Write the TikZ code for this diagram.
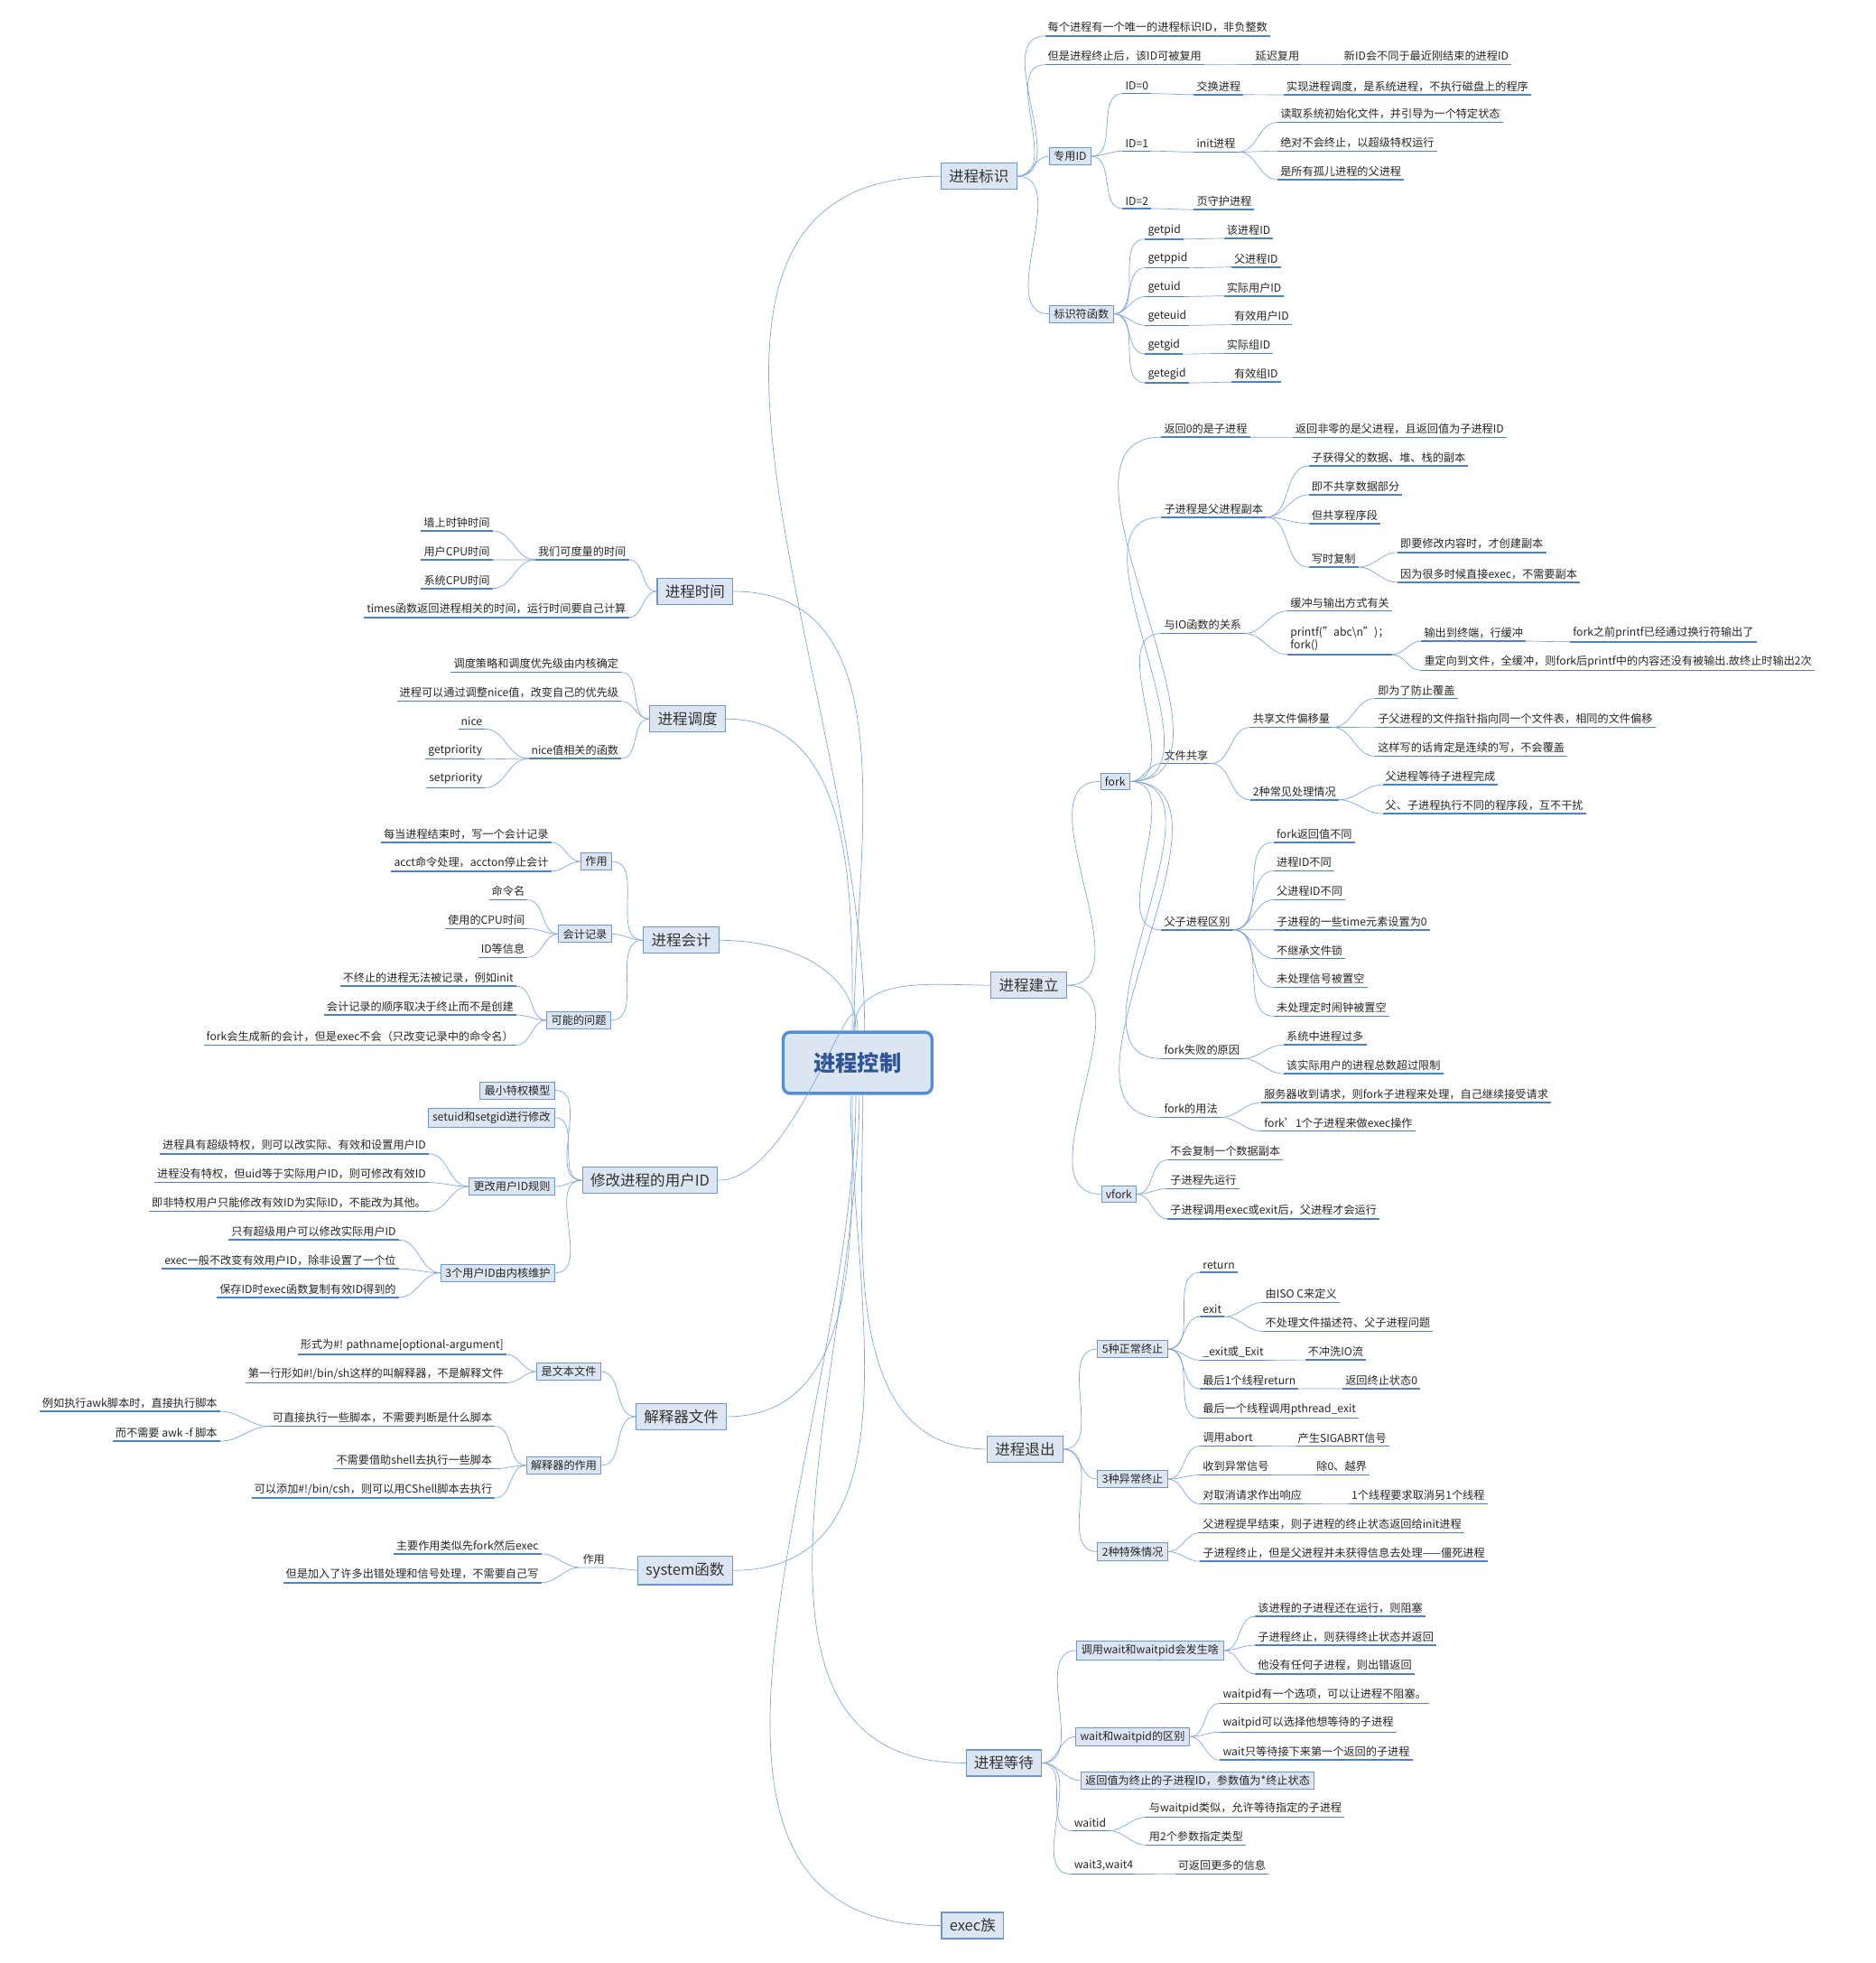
\documentclass[tikz,border=0pt]{standalone}
\usepackage{fontspec}
\setmainfont{Noto Sans CJK SC}
\begin{document}
\begin{tikzpicture}[x=0.05cm,y=-0.05cm,
 font=\fontsize{12.5}{15}\selectfont,
 uline/.style={draw=ulc,line width=1.6pt},
 leaf/.style={inner xsep=3pt,inner ysep=3.5pt,text=black!85,
   append after command={(\tikzlastnode.south west) edge[uline] (\tikzlastnode.south east)}},
 sbox/.style={draw=boxc,fill=boxf,line width=0.9pt,inner xsep=5pt,inner ysep=4pt,text=black!85},
 mainbox/.style={draw=boxc,fill=boxf,line width=1.2pt,inner xsep=9pt,inner ysep=7pt,font=\fontsize{17}{20}\selectfont,text=black!80},
 rootbox/.style={draw=rootc,fill=boxf,line width=3.5pt,rounded corners=8pt,minimum width=119*0.05cm,minimum height=49*0.05cm,font=\fontsize{25}{30}\selectfont\bfseries,text=roott},
 conn/.style={draw=connc,line width=0.7pt}]
\definecolor{ulc}{HTML}{4F81BD}
\definecolor{boxc}{HTML}{6F97CF}
\definecolor{boxf}{HTML}{DCE6F2}
\definecolor{rootc}{HTML}{558ED5}
\definecolor{roott}{HTML}{2F5597}
\definecolor{connc}{HTML}{7EA3D6}
\newcommand{\lf}[4]{\node[leaf,anchor=west] (#1) at (#2,#3) {#4};}
\newcommand{\lfl}[4]{\node[leaf,anchor=east] (#1) at (#2,#3) {#4};}
\newcommand{\cR}[2]{\draw[conn] (#1) to[out=0,in=180] (#2.south west);}
\newcommand{\cRb}[2]{\draw[conn] (#1) to[out=0,in=180] (#2.west);}
\newcommand{\cL}[2]{\draw[conn] (#1) to[out=180,in=0] (#2.south east);}
\newcommand{\cLb}[2]{\draw[conn] (#1) to[out=180,in=0] (#2.east);}
\useasboundingbox (0,0) rectangle (1500,1570);

\node[rootbox] (root) at (686,850) {进程控制};
% main nodes
\node[mainbox] (m1) at (783,141) {进程标识};
\node[mainbox] (m2) at (823,788) {进程建立};
\node[mainbox] (m3) at (820,1159) {进程退出};
\node[mainbox] (m4) at (803,1410) {进程等待};
\node[mainbox] (m5) at (778,1540) {exec族};
\node[mainbox] (l1) at (556,473) {进程时间};
\node[mainbox] (l2) at (550,575) {进程调度};
\node[mainbox] (l3) at (545,752) {进程会计};
\node[mainbox] (l4) at (520,944) {修改进程的用户ID};
\node[mainbox] (l5) at (545,1133) {解释器文件};
\node[mainbox] (l6) at (548,1256) {system函数};
\foreach \m/\dx in {m1/8,m2/-4,l1/-4,l2/-6,l3/-2,l4/0}{\draw[conn] ([xshift=\dx]root.north) to[out=90,in={\ifnum\pdfstrcmp{\m}{m1}=0 180\else\ifnum\pdfstrcmp{\m}{m2}=0 180\else 0\fi\fi}] (\m.\ifnum\pdfstrcmp{\m}{m1}=0 west\else\ifnum\pdfstrcmp{\m}{m2}=0 west\else east\fi\fi);}
\foreach \m/\dx in {m3/6,m4/2,m5/-2}{\draw[conn] ([xshift=\dx]root.south) to[out=-90,in=180] (\m.west);}
\foreach \m/\dx in {l5/-6,l6/-8}{\draw[conn] ([xshift=\dx]root.south) to[out=-90,in=0] (\m.east);}

% ---- 进程标识
\lf{a1}{836}{22}{每个进程有一个唯一的进程标识ID，非负整数}
\lf{a2}{836}{45}{但是进程终止后，该ID可被复用}
\lf{a21}{1002}{45}{延迟复用}
\lf{a22}{1073}{45}{新ID会不同于最近刚结束的进程ID}
\node[sbox] (a3) at (856,125) {专用ID};
\lf{a31}{898}{69}{ID=0}\lf{a311}{955}{69}{交换进程}\lf{a312}{1027}{69}{实现进程调度，是系统进程，不执行磁盘上的程序}
\lf{a32}{898}{115}{ID=1}\lf{a321}{955}{115}{init进程}
\lf{a3211}{1022}{91}{读取系统初始化文件，并引导为一个特定状态}
\lf{a3212}{1022}{114}{绝对不会终止，以超级特权运行}
\lf{a3213}{1022}{137}{是所有孤儿进程的父进程}
\lf{a33}{898}{161}{ID=2}\lf{a331}{955}{161}{页守护进程}
\node[sbox] (a4) at (865,251) {标识符函数};
\lf{g1}{916}{184}{getpid}\lf{h1}{979}{184}{该进程ID}
\lf{g2}{916}{207}{getppid}\lf{h2}{985}{207}{父进程ID}
\lf{g3}{916}{230}{getuid}\lf{h3}{979}{230}{实际用户ID}
\lf{g4}{916}{253}{geteuid}\lf{h4}{985}{253}{有效用户ID}
\lf{g5}{916}{276}{getgid}\lf{h5}{979}{276}{实际组ID}
\lf{g6}{916}{299}{getegid}\lf{h6}{985}{299}{有效组ID}
\cR{m1.east}{a1}\cR{m1.east}{a2}\cRb{m1.east}{a3}\cRb{m1.east}{a4}
\cR{a2.south east}{a21}\cR{a21.south east}{a22}
\cR{a3.east}{a31}\cR{a3.east}{a32}\cR{a3.east}{a33}
\cR{a31.south east}{a311}\cR{a311.south east}{a312}
\cR{a32.south east}{a321}\cR{a321.south east}{a3211}\cR{a321.south east}{a3212}\cR{a321.south east}{a3213}
\cR{a33.south east}{a331}
\foreach \i in {1,...,6}{\cR{a4.east}{g\i}\cR{g\i.south east}{h\i}}

% ---- 进程建立
\node[sbox] (f) at (892,625) {fork};
\node[sbox] (vf) at (895,955) {vfork};
\cRb{m2.east}{f}\cRb{m2.east}{vf}
\lf{b1}{929}{343}{返回0的是子进程}\lf{b11}{1034}{343}{返回非零的是父进程，且返回值为子进程ID}
\lf{b2}{929}{407}{子进程是父进程副本}
\lf{b21}{1047}{366}{子获得父的数据、堆、栈的副本}
\lf{b22}{1047}{389}{即不共享数据部分}
\lf{b23}{1047}{412}{但共享程序段}
\lf{b24}{1047}{447}{写时复制}
\lf{b241}{1118}{435}{即要修改内容时，才创建副本}
\lf{b242}{1118}{459}{因为很多时候直接exec，不需要副本}
\lf{b3}{929}{500}{与IO函数的关系}
\lf{b31}{1030}{482}{缓冲与输出方式有关}
\node[leaf,anchor=west,align=left] (b32) at (1030,511) {printf("abc\textbackslash n")；\\fork()};
\lf{b321}{1137}{506}{输出到终端，行缓冲}\lf{b3211}{1256}{506}{fork之前printf已经通过换行符输出了}
\lf{b322}{1137}{529}{重定向到文件，全缓冲，则fork后printf中的内容还没有被输出.故终止时输出2次}
\lf{b4}{929}{604}{文件共享}
\lf{b41}{1000}{575}{共享文件偏移量}
\lf{b411}{1100}{552}{即为了防止覆盖}
\lf{b412}{1100}{575}{子父进程的文件指针指向同一个文件表，相同的文件偏移}
\lf{b413}{1100}{598}{这样写的话肯定是连续的写，不会覆盖}
\lf{b42}{1000}{633}{2种常见处理情况}
\lf{b421}{1106}{621}{父进程等待子进程完成}
\lf{b422}{1106}{644}{父、子进程执行不同的程序段，互不干扰}
\lf{b5}{929}{737}{父子进程区别}
\lf{c1}{1019}{667}{fork返回值不同}
\lf{c2}{1019}{690}{进程ID不同}
\lf{c3}{1019}{713}{父进程ID不同}
\lf{c4}{1019}{737}{子进程的一些time元素设置为0}
\lf{c5}{1019}{760}{不继承文件锁}
\lf{c6}{1019}{783}{未处理信号被置空}
\lf{c7}{1019}{806}{未处理定时闹钟被置空}
\lf{b6}{929}{840}{fork失败的原因}
\lf{b61}{1027}{829}{系统中进程过多}
\lf{b62}{1027}{852}{该实际用户的进程总数超过限制}
\lf{b7}{929}{887}{fork的用法}
\lf{b71}{1009}{875}{服务器收到请求，则fork子进程来处理，自己继续接受请求}
\lf{b72}{1009}{898}{fork'1个子进程来做exec操作}
\foreach \n in {b1,b2,b3,b4,b5,b6,b7}{\cR{f.east}{\n}}
\cR{b1.south east}{b11}
\foreach \n in {b21,b22,b23,b24}{\cR{b2.south east}{\n}}
\cR{b24.south east}{b241}\cR{b24.south east}{b242}
\cR{b3.south east}{b31}\cR{b3.south east}{b32}
\cR{b32.south east}{b321}\cR{b32.south east}{b322}\cR{b321.south east}{b3211}
\cR{b4.south east}{b41}\cR{b4.south east}{b42}
\foreach \n in {b411,b412,b413}{\cR{b41.south east}{\n}}
\cR{b42.south east}{b421}\cR{b42.south east}{b422}
\foreach \n in {c1,c2,c3,c4,c5,c6,c7}{\cR{b5.south east}{\n}}
\cR{b6.south east}{b61}\cR{b6.south east}{b62}
\cR{b7.south east}{b71}\cR{b7.south east}{b72}
\lf{v1}{934}{921}{不会复制一个数据副本}
\lf{v2}{934}{944}{子进程先运行}
\lf{v3}{934}{968}{子进程调用exec或exit后，父进程才会运行}
\foreach \n in {v1,v2,v3}{\cR{vf.east}{\n}}

% ---- 进程退出
\node[sbox] (e1) at (906,1079) {5种正常终止};
\node[sbox] (e2) at (906,1183) {3种异常终止};
\node[sbox] (e3) at (906,1241) {2种特殊情况};
\cRb{m3.east}{e1}\cRb{m3.east}{e2}\cRb{m3.east}{e3}
\lf{d1}{960}{1012}{return}
\lf{d2}{960}{1047}{exit}\lf{d21}{1010}{1035}{由ISO C来定义}\lf{d22}{1010}{1058}{不处理文件描述符、父子进程问题}
\lf{d3}{960}{1081}{\_exit或\_Exit}\lf{d31}{1044}{1081}{不冲洗IO流}
\lf{d4}{960}{1104}{最后1个线程return}\lf{d41}{1074}{1104}{返回终止状态0}
\lf{d5}{960}{1127}{最后一个线程调用pthread\_exit}
\foreach \n in {d1,d2,d3,d4,d5}{\cR{e1.east}{\n}}
\cR{d2.south east}{d21}\cR{d2.south east}{d22}\cR{d3.south east}{d31}\cR{d4.south east}{d41}
\lf{k1}{960}{1150}{调用abort}\lf{k11}{1036}{1150}{产生SIGABRT信号}
\lf{k2}{960}{1173}{收到异常信号}\lf{k21}{1051}{1173}{除0、越界}
\lf{k3}{960}{1196}{对取消请求作出响应}\lf{k31}{1079}{1196}{1个线程要求取消另1个线程}
\foreach \n in {k1,k2,k3}{\cR{e2.east}{\n}\cR{\n.south east}{\n1}}
\lf{s1}{960}{1219}{父进程提早结束，则子进程的终止状态返回给init进程}
\lf{s2}{960}{1242}{子进程终止，但是父进程并未获得信息去处理——僵死进程}
\cR{e3.east}{s1}\cR{e3.east}{s2}

% ---- 进程等待
\node[sbox] (w1) at (920,1320) {调用wait和waitpid会发生啥};
\node[sbox] (w2) at (906,1389) {wait和waitpid的区别};
\node[sbox] (w3) at (958,1424) {返回值为终止的子进程ID，参数值为*终止状态};
\lf{w4}{857}{1458}{waitid}
\lf{w5}{857}{1492}{wait3,wait4}
\cRb{m4.east}{w1}\cRb{m4.east}{w2}\cRb{m4.east}{w3}\cR{m4.east}{w4}\cR{m4.east}{w5}
\lf{w11}{1004}{1286}{该进程的子进程还在运行，则阻塞}
\lf{w12}{1004}{1309}{子进程终止，则获得终止状态并返回}
\lf{w13}{1004}{1332}{他没有任何子进程，则出错返回}
\foreach \n in {w11,w12,w13}{\cR{w1.east}{\n}}
\lf{w21}{976}{1355}{waitpid有一个选项，可以让进程不阻塞。}
\lf{w22}{976}{1378}{waitpid可以选择他想等待的子进程}
\lf{w23}{976}{1401}{wait只等待接下来第一个返回的子进程}
\foreach \n in {w21,w22,w23}{\cR{w2.east}{\n}}
\lf{w41}{917}{1446}{与waitpid类似，允许等待指定的子进程}
\lf{w42}{917}{1469}{用2个参数指定类型}
\cR{w4.south east}{w41}\cR{w4.south east}{w42}
\lf{w51}{940}{1492}{可返回更多的信息}
\cR{w5.south east}{w51}

% ---- 进程时间
\lfl{t1}{503}{441}{我们可度量的时间}
\lfl{t11}{394}{418}{墙上时钟时间}
\lfl{t12}{394}{441}{用户CPU时间}
\lfl{t13}{394}{464}{系统CPU时间}
\lfl{t2}{503}{487}{times函数返回进程相关的时间，运行时间要自己计算}
\cL{l1.west}{t1}\cL{l1.west}{t2}
\foreach \n in {t11,t12,t13}{\cL{t1.south west}{\n}}
% ---- 进程调度
\lfl{p1}{497}{531}{调度策略和调度优先级由内核确定}
\lfl{p2}{497}{554}{进程可以通过调整nice值，改变自己的优先级}
\lfl{p3}{497}{600}{nice值相关的函数}
\lfl{p31}{388}{577}{nice}
\lfl{p32}{388}{600}{getpriority}
\lfl{p33}{388}{623}{setpriority}
\foreach \n in {p1,p2,p3}{\cL{l2.west}{\n}}
\foreach \n in {p31,p32,p33}{\cL{p3.south west}{\n}}
% ---- 进程会计
\node[sbox] (q1) at (477,689) {作用};
\node[sbox] (q2) at (468,747) {会计记录};
\node[sbox] (q3) at (463,816) {可能的问题};
\foreach \n in {q1,q2,q3}{\cLb{l3.west}{\n}}
\lfl{q11}{441}{667}{每当进程结束时，写一个会计记录}
\lfl{q12}{441}{690}{acct命令处理，accton停止会计}
\lfl{q21}{422}{713}{命令名}
\lfl{q22}{422}{736}{使用的CPU时间}
\lfl{q23}{422}{759}{ID等信息}
\lfl{q31}{413}{782}{不终止的进程无法被记录，例如init}
\lfl{q32}{413}{805}{会计记录的顺序取决于终止而不是创建}
\lfl{q33}{413}{829}{fork会生成新的会计，但是exec不会（只改变记录中的命令名）}
\cL{q1.west}{q11}\cL{q1.west}{q12}
\foreach \n in {q21,q22,q23}{\cL{q2.west}{\n}}
\foreach \n in {q31,q32,q33}{\cL{q3.west}{\n}}
% ---- 修改进程的用户ID
\node[sbox,anchor=east] (u1) at (444,872) {最小特权模型};
\node[sbox,anchor=east] (u2) at (444,894) {setuid和setgid进行修改};
\node[sbox,anchor=east] (u3) at (444,949) {更改用户ID规则};
\node[sbox,anchor=east] (u4) at (444,1018) {3个用户ID由内核维护};
\foreach \n in {u1,u2,u3,u4}{\cLb{l4.west}{\n}}
\lfl{u31}{343}{916}{进程具有超级特权，则可以改实际、有效和设置用户ID}
\lfl{u32}{343}{939}{进程没有特权，但uid等于实际用户ID，则可修改有效ID}
\lfl{u33}{343}{962}{即非特权用户只能修改有效ID为实际ID，不能改为其他。}
\foreach \n in {u31,u32,u33}{\cL{u3.west}{\n}}
\lfl{u41}{319}{985}{只有超级用户可以修改实际用户ID}
\lfl{u42}{319}{1008}{exec一般不改变有效用户ID，除非设置了一个位}
\lfl{u43}{319}{1031}{保存ID时exec函数复制有效ID得到的}
\foreach \n in {u41,u42,u43}{\cL{u4.west}{\n}}
% ---- 解释器文件
\node[sbox] (i1) at (455,1097) {是文本文件};
\node[sbox] (i2) at (451,1172) {解释器的作用};
\cLb{l5.west}{i1}\cLb{l5.west}{i2}
\lfl{i11}{405}{1076}{形式为\#! pathname[optional-argument]}
\lfl{i12}{405}{1099}{第一行形如\#!/bin/sh这样的叫解释器，不是解释文件}
\cL{i1.west}{i11}\cL{i1.west}{i12}
\lfl{i21}{396}{1134}{可直接执行一些脚本，不需要判断是什么脚本}
\lfl{i211}{176}{1122}{例如执行awk脚本时，直接执行脚本}
\lfl{i212}{176}{1146}{而不需要 awk -f 脚本}
\lfl{i22}{396}{1168}{不需要借助shell去执行一些脚本}
\lfl{i23}{396}{1191}{可以添加\#!/bin/csh，则可以用CShell脚本去执行}
\foreach \n in {i21,i22,i23}{\cL{i2.west}{\n}}
\cL{i21.south west}{i211}\cL{i21.south west}{i212}
% ---- system函数
\node[inner xsep=3pt,inner ysep=3.5pt,anchor=east,text=black!85] (y1) at (486,1247) {作用};
\draw[conn] (l6.west) -- (y1.south east) -- (y1.south west);
\lfl{y11}{433}{1236}{主要作用类似先fork然后exec}
\lfl{y12}{433}{1259}{但是加入了许多出错处理和信号处理，不需要自己写}
\cL{y1.south west}{y11}\cL{y1.south west}{y12}
\end{tikzpicture}
\end{document}
